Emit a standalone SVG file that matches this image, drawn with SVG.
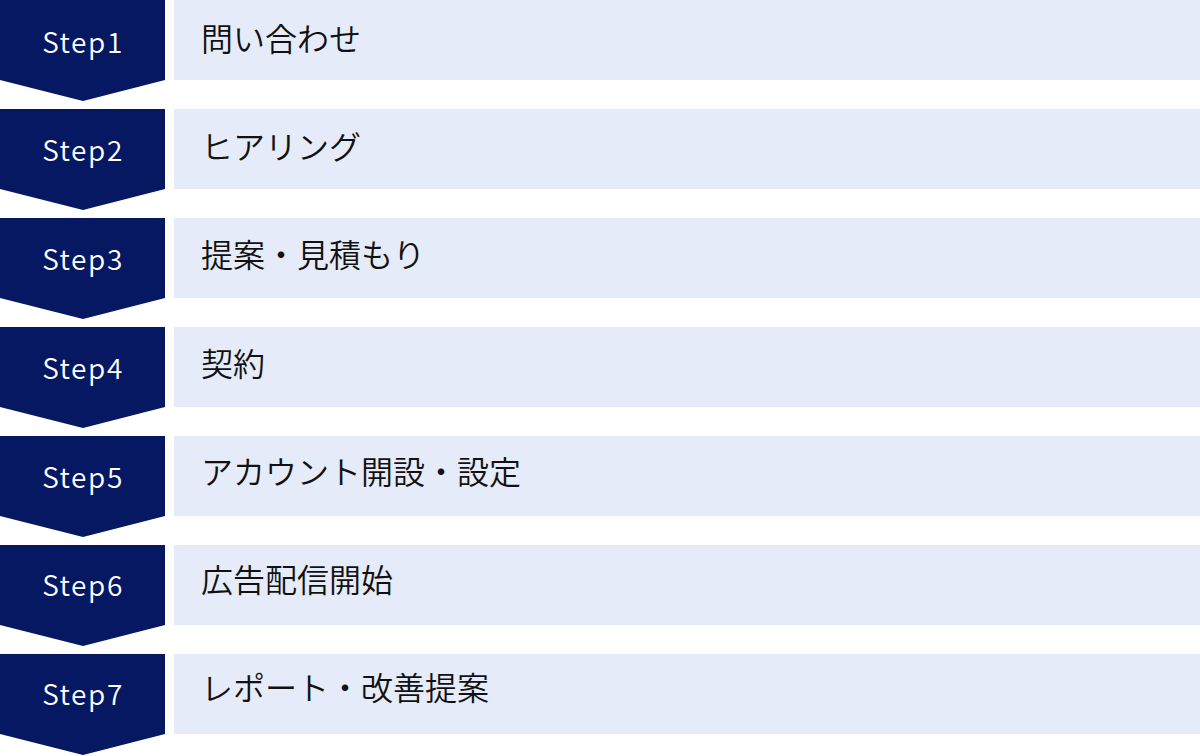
<svg xmlns="http://www.w3.org/2000/svg" width="1200" height="756" viewBox="0 0 1200 756">
<style>
.chev{fill:#051861}
.box{fill:#E5EBF8}
.st{font-family:"Noto Sans CJK JP","Noto Sans",sans-serif;font-size:28px;font-weight:350;fill:#ffffff;text-anchor:middle;letter-spacing:1.6px}
.lb{font-family:"Noto Sans CJK JP",sans-serif;font-size:32px;font-weight:350;fill:#111111}
</style>
<defs>
<path id="chevron" d="M0 0H165V80L83 101L0 80Z"/>
</defs>
<g id="step1" transform="translate(0,0)"><use href="#chevron" class="chev"/><rect class="box" x="174" y="0" width="1026" height="80"/><text class="st" x="83" y="52.5">Step1</text><text class="lb" x="201" y="51">問い合わせ</text></g>
<g id="step2" transform="translate(0,109)"><use href="#chevron" class="chev"/><rect class="box" x="174" y="0" width="1026" height="80"/><text class="st" x="83" y="52.3">Step2</text><text class="lb" x="201" y="50.2">ヒアリング</text></g>
<g id="step3" transform="translate(0,218)"><use href="#chevron" class="chev"/><rect class="box" x="174" y="0" width="1026" height="80"/><text class="st" x="83" y="52">Step3</text><text class="lb" x="201" y="49.4">提案・見積もり</text></g>
<g id="step4" transform="translate(0,327)"><use href="#chevron" class="chev"/><rect class="box" x="174" y="0" width="1026" height="80"/><text class="st" x="83" y="51.8">Step4</text><text class="lb" x="201" y="48.6">契約</text></g>
<g id="step5" transform="translate(0,436)"><use href="#chevron" class="chev"/><rect class="box" x="174" y="0" width="1026" height="80"/><text class="st" x="83" y="51.5">Step5</text><text class="lb" x="201" y="47.8">アカウント開設・設定</text></g>
<g id="step6" transform="translate(0,545)"><use href="#chevron" class="chev"/><rect class="box" x="174" y="0" width="1026" height="80"/><text class="st" x="83" y="51.3">Step6</text><text class="lb" x="201" y="47">広告配信開始</text></g>
<g id="step7" transform="translate(0,654)"><use href="#chevron" class="chev"/><rect class="box" x="174" y="0" width="1026" height="80"/><text class="st" x="83" y="51">Step7</text><text class="lb" x="201" y="46.2">レポート・改善提案</text></g>
<g id="connectors"/>
</svg>
